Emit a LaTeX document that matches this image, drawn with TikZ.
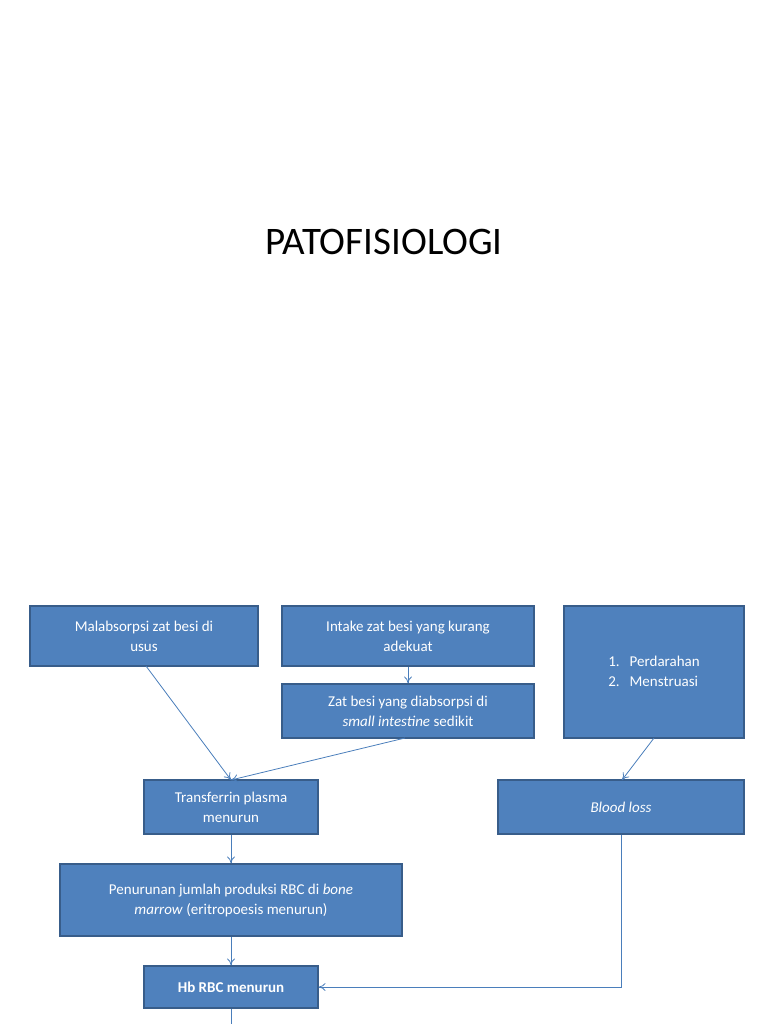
\documentclass[tikz,border=0pt]{standalone}
\usepackage{fontspec}
\setmainfont{Carlito}
\usetikzlibrary{arrows.meta}
\definecolor{boxfill}{HTML}{4F81BD}
\definecolor{boxline}{HTML}{385D8A}
\definecolor{conn}{HTML}{4A7EBB}
\begin{document}
\begin{tikzpicture}[x=1pt,y=-1pt,
  bx/.style={draw=boxline,line width=1.2pt,fill=boxfill,text=white,font=\fontsize{15}{20}\selectfont,align=center,inner sep=0pt},
  ar/.style={draw=conn,line width=0.8pt,-{To[length=7pt,width=8pt]}}]
\useasboundingbox (0,0) rectangle (768,1024);
\node[font=\fontsize{39}{46}\selectfont] (title) at (384,242) {PATOFISIOLOGI};
\node[bx,minimum width=228pt,minimum height=60pt] (mal) at (144,636) {Malabsorpsi zat besi di\\usus};
\node[bx,minimum width=252pt,minimum height=60pt] (int) at (408,636) {Intake zat besi yang kurang\\adekuat};
\node[bx,minimum width=252pt,minimum height=54pt] (zat) at (408,711) {Zat besi yang diabsorpsi di\\\textit{small intestine} sedikit};
\node[bx,minimum width=180pt,minimum height=132pt] (per) at (654,672) {\begin{tabular}{@{}l@{\hspace{10pt}}l@{}}1.&Perdarahan\\2.&Menstruasi\end{tabular}};
\node[bx,minimum width=174pt,minimum height=54pt] (tra) at (231,807) {Transferrin plasma\\menurun};
\node[bx,minimum width=246pt,minimum height=54pt] (blo) at (621,807) {\textit{Blood loss}};
\node[bx,minimum width=342pt,minimum height=72pt] (pen) at (231,900) {Penurunan jumlah produksi RBC di \textit{bone}\\\textit{marrow} (eritropoesis menurun)};
\node[bx,minimum width=174pt,minimum height=42pt] (hb) at (231,987) {\textbf{Hb RBC menurun}};
\coordinate (bend) at (621,987);
\coordinate (end) at (231,1024);
\draw[ar] (146,666) -- (231,780);
\draw[ar] (int.south) -- (zat.north);
\draw[ar] (405,738) -- (231,780);
\draw[ar] (654,738) -- (622,780);
\draw[ar] (tra.south) -- (pen.north);
\draw[ar] (pen.south) -- (hb.north);
\draw[ar] (blo.south) -- (bend) -- (hb.east);
\draw[draw=conn,line width=0.8pt] (hb.south) -- (end);
\end{tikzpicture}
\end{document}
